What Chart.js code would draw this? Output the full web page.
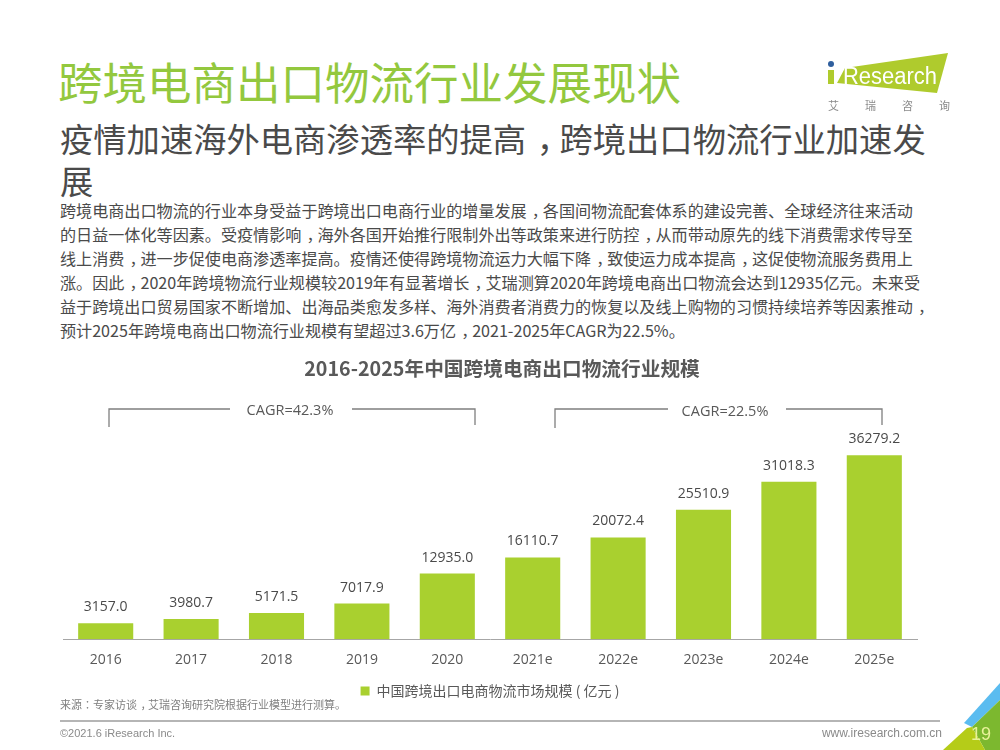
<!DOCTYPE html>
<html>
<head>
<meta charset="utf-8">
<script src="https://cdn.jsdelivr.net/npm/chart.js@4"></script>
<style>
@font-face { font-family: "CenterPunct"; src: local("Noto Sans CJK KR"), local("NotoSansCJKkr-Regular"); unicode-range: U+FF1A; }
html, body { margin: 0; padding: 0; background: #fff; }
body { width: 1000px; height: 750px; position: relative; overflow: hidden; font-family: "CenterPunct", "Noto Sans CJK SC", sans-serif; }
.abs { position: absolute; white-space: nowrap; }
.comma { display: inline-block; transform: translateX(0.32em); }
#heading { left: 58px; top: 50px; font-size: 44.5px; line-height: 62px; color: #93c83e; }
#sub { left: 60px; top: 117px; font-size: 33.3px; line-height: 42px; color: #4a4a4a; }
#body { left: 60px; top: 198px; font-size: 16.1px; line-height: 24px; color: #4a4a4a; }
#source { left: 60px; top: 697px; font-size: 11px; line-height: 14px; color: #7f7f7f; }
#copy { left: 60px; top: 726px; font-size: 11px; line-height: 14px; color: #8a8a8a; font-family: "Liberation Sans", sans-serif; }
#site { right: 58px; top: 726px; font-size: 12px; line-height: 14px; color: #8a8a8a; font-family: "Liberation Sans", sans-serif; }
#rule { left: 60px; top: 720px; width: 880px; height: 2px; background: #b5b5b5; }
#wrap { left: 0; top: 350px; width: 1000px; height: 360px; }
svg { position: absolute; left: 0; top: 0; }
</style>
</head>
<body>
<div class="abs" id="heading">跨境电商出口物流行业发展现状</div>
<div class="abs" id="sub">疫情加速海外电商渗透率的提高，跨境出口物流行业加速发<br>展</div>
<div class="abs" id="body">跨境电商出口物流的行业本身受益于跨境出口电商行业的增量发展，各国间物流配套体系的建设完善、全球经济往来活动<br>的日益一体化等因素。受疫情影响，海外各国开始推行限制外出等政策来进行防控，从而带动原先的线下消费需求传导至<br>线上消费，进一步促使电商渗透率提高。疫情还使得跨境物流运力大幅下降，致使运力成本提高，这促使物流服务费用上<br>涨。因此，2020年跨境物流行业规模较2019年有显著增长，艾瑞测算2020年跨境电商出口物流会达到12935亿元。未来受<br>益于跨境出口贸易国家不断增加、出海品类愈发多样、海外消费者消费力的恢复以及线上购物的习惯持续培养等因素推动，<br>预计2025年跨境电商出口物流行业规模有望超过3.6万亿，2021-2025年CAGR为22.5%。</div>

<div class="abs" id="wrap"><canvas id="chart" width="1000" height="360"></canvas></div>

<svg width="1000" height="750">
  <polygon points="845,68 948,53 937,93 837,83" fill="#afcb2d"/>
  <rect x="828" y="70" width="6" height="14" fill="#afcb2d"/>
  <circle cx="831" cy="64" r="3" fill="#2f5f9e"/>
  <text x="843" y="84" font-family="Liberation Sans" font-size="23" fill="#fff" textLength="94" lengthAdjust="spacingAndGlyphs">Research</text>
  <text x="828" y="110" font-family="Noto Sans CJK SC" font-size="11" fill="#8a8a8a" textLength="122">艾 瑞 咨 询</text>

  <g fill="none" stroke="#7f7f7f" stroke-width="1.3">
    <path d="M109 427V409H230M352 409H475V425"/>
    <path d="M555 428V409H668M786 409H882V425"/>
  </g>
  <g font-family="Open Sans" font-size="14.5" fill="#595959" text-anchor="middle">
    <text x="290" y="415">CAGR=42.3%</text>
    <text x="725" y="416">CAGR=22.5%</text>
  </g>

  <polygon points="1000,683 1000,700 972,727 964,723" fill="#5bbcf0"/>
  <polygon points="1000,700 1000,750 985,750 972,727" fill="#7cb82f"/>
  <polygon points="943,750 967,728 972,727 985,750" fill="#b5cc18"/>
  <text x="981" y="740" font-family="Liberation Sans" font-size="18" fill="#e8f29a" text-anchor="middle">19</text>
</svg>

<div class="abs" id="source">来源：专家访谈，艾瑞咨询研究院根据行业模型进行测算。</div>
<div class="abs" id="rule"></div>
<div class="abs" id="copy">©2021.6 iResearch Inc.</div>
<div class="abs" id="site">www.iresearch.com.cn</div>

<script>
const categories = ['2016', '2017', '2018', '2019', '2020', '2021e', '2022e', '2023e', '2024e', '2025e'];
const marketSize = [3157.0, 3980.7, 5171.5, 7017.9, 12935.0, 16110.7, 20072.4, 25510.9, 31018.3, 36279.2];
const seriesName = '中国跨境出口电商物流市场规模 ( 亿元 )';
const chartTitle = '2016-2025年中国跨境电商出口物流行业规模';

// the slide font centres its commas in the em box
['sub', 'body', 'source'].forEach(id => {
  const el = document.getElementById(id);
  el.innerHTML = el.innerHTML.replace(/，/g, '<span class="comma">，</span>');
});

// value labels above each bar
const barLabels = {
  id: 'barLabels',
  afterLayout(chart) {
    // title sits a bit right of the plot centre in the slide
    chart.titleBlock.left += 12;
    chart.titleBlock.right += 12;
  },
  afterDatasetsDraw(chart) {
    const ctx = chart.ctx;
    const meta = chart.getDatasetMeta(0);
    ctx.save();
    ctx.font = '14px "Open Sans"';
    ctx.fillStyle = '#4a4a4a';
    ctx.textAlign = 'center';
    ctx.textBaseline = 'bottom';
    meta.data.forEach((bar, i) => {
      ctx.fillText(marketSize[i].toFixed(1), bar.x, bar.y - 9);
    });
    ctx.restore();
  }
};

new Chart(document.getElementById('chart'), {
  type: 'bar',
  data: {
    labels: categories,
    datasets: [{
      label: seriesName,
      data: marketSize,
      backgroundColor: '#a9d02f',
      barPercentage: 0.645,
      categoryPercentage: 1
    }]
  },
  options: {
    responsive: false,
    animation: false,
    layout: { padding: { left: 63, right: 83, top: 7, bottom: 2 } },
    plugins: {
      title: {
        display: true,
        text: chartTitle,
        color: '#595959',
        font: { family: '"Noto Sans CJK SC"', size: 19.7, weight: 'bold' },
        padding: { top: 0, bottom: 10 }
      },
      legend: {
        position: 'bottom',
        labels: {
          color: '#595959',
          font: { family: '"Noto Sans CJK SC"', size: 14 },
          boxWidth: 9,
          boxHeight: 9,
          padding: 4
        }
      },
      tooltip: { enabled: false }
    },
    scales: {
      x: {
        grid: { display: false, drawTicks: false },
        border: { color: '#a6a6a6', width: 1 },
        ticks: {
          color: '#595959',
          font: { family: '"Open Sans"', size: 14 },
          padding: 12,
          maxRotation: 0
        }
      },
      y: { display: false, min: 0, max: 49000 }
    }
  },
  plugins: [barLabels]
});
</script>
</body>
</html>
